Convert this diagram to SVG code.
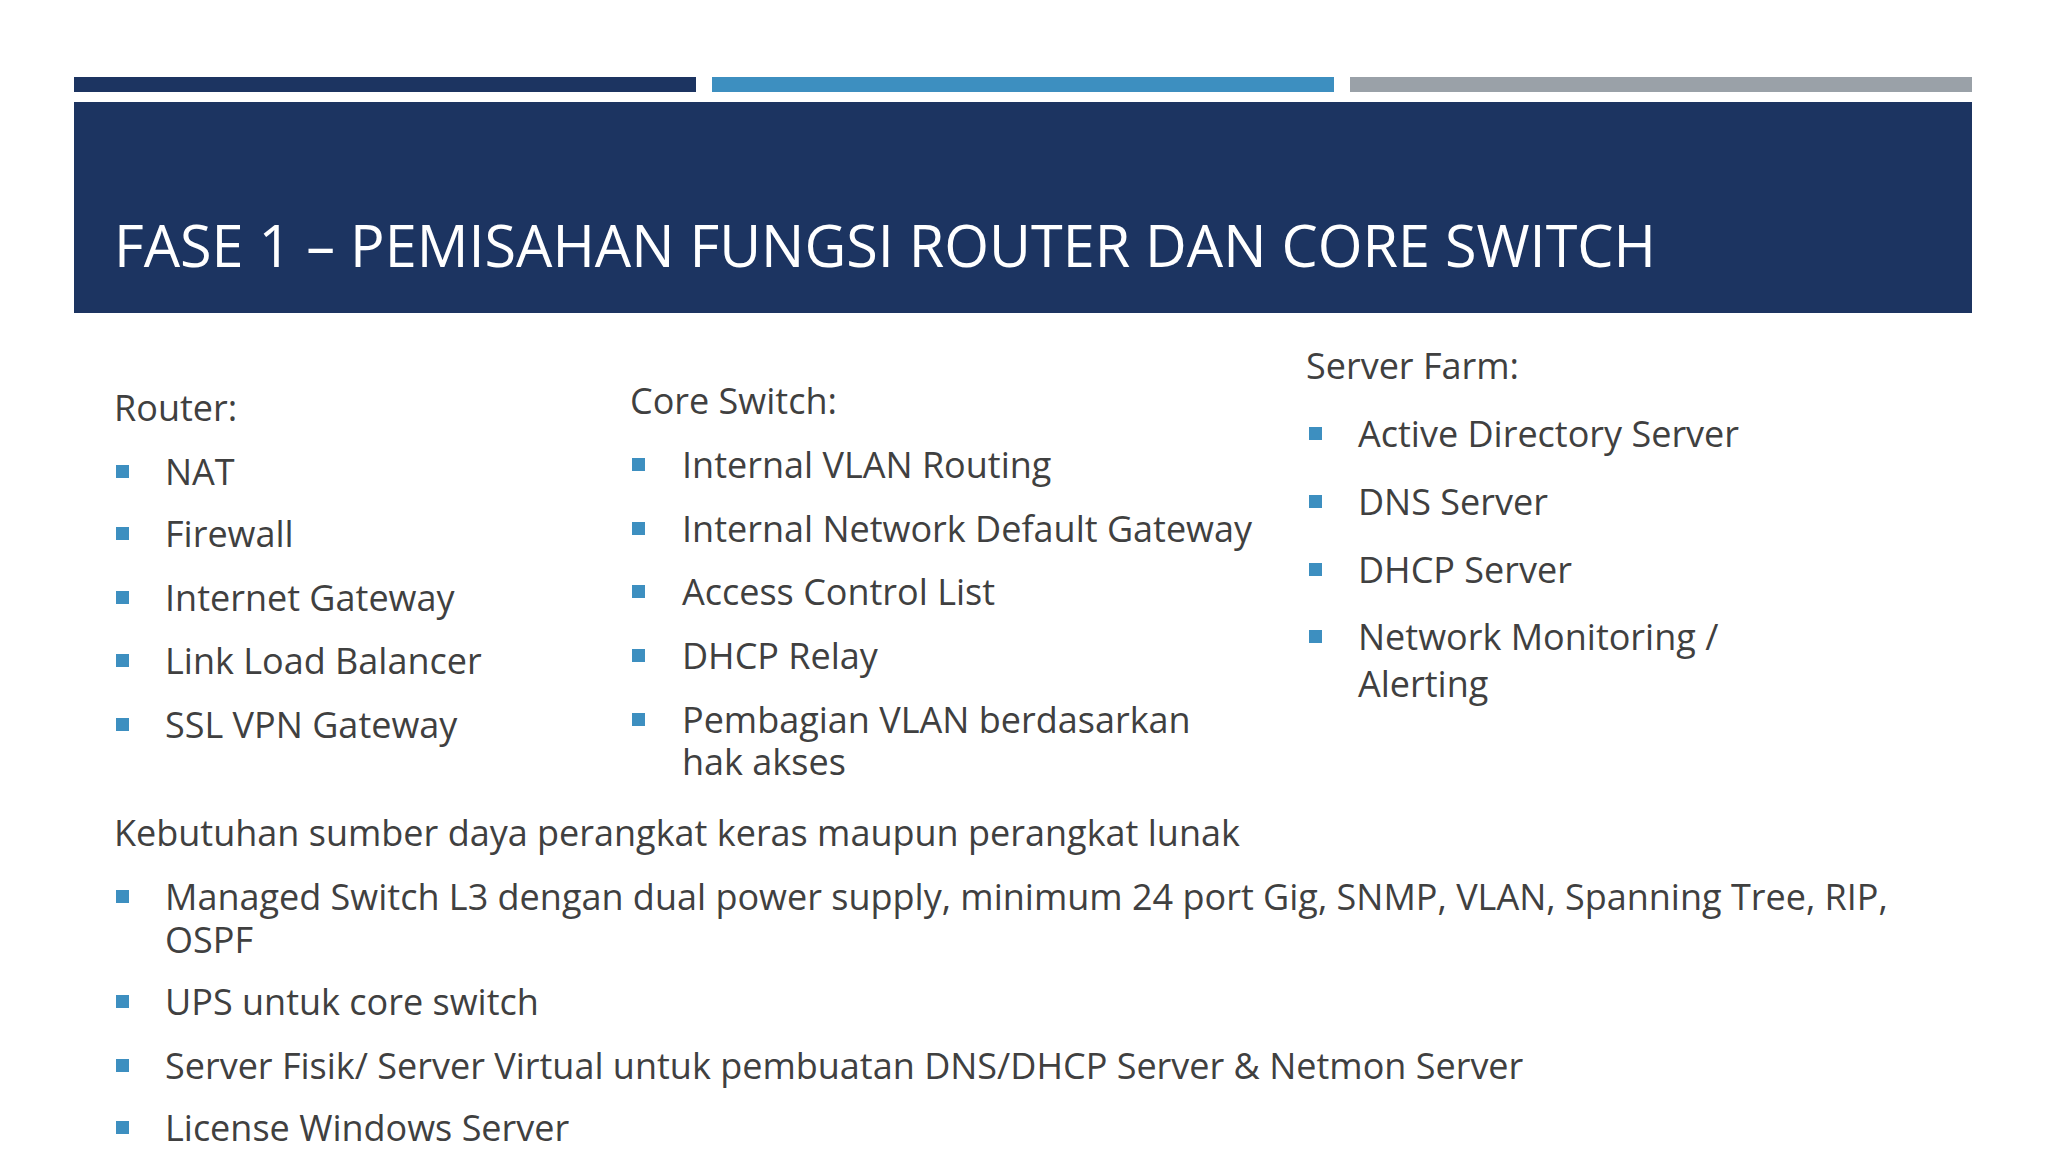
<svg xmlns="http://www.w3.org/2000/svg" width="2048" height="1152" viewBox="0 0 2048 1152">
<style>
.t{font-family:"Open Sans","Noto Sans",sans-serif;font-size:36px;fill:#404040}
.b{fill:#3d8fc0}
</style>
<rect width="2048" height="1152" fill="#fff"/>
<rect x="74" y="77" width="622" height="15" fill="#1c3461"/>
<rect x="712" y="77" width="622" height="15" fill="#3d8fc0"/>
<rect x="1350" y="77" width="622" height="15" fill="#9aa1a8"/>
<g id="header">
<rect x="74" y="102" width="1898" height="211" fill="#1c3461"/>
<text x="114" y="267" font-family="Open Sans,Noto Sans,sans-serif" font-size="58" fill="#fff" textLength="1542" lengthAdjust="spacingAndGlyphs">FASE 1 – PEMISAHAN FUNGSI ROUTER DAN CORE SWITCH</text>
</g>
<g id="router">
<text class="t" x="114" y="421">Router:</text>
<rect class="b" x="116" y="465" width="13" height="13"/><text class="t" x="165" y="485">NAT</text>
<rect class="b" x="116" y="527" width="13" height="13"/><text class="t" x="165" y="547">Firewall</text>
<rect class="b" x="116" y="591" width="13" height="13"/><text class="t" x="165" y="611">Internet Gateway</text>
<rect class="b" x="116" y="654" width="13" height="13"/><text class="t" x="165" y="674">Link Load Balancer</text>
<rect class="b" x="116" y="718" width="13" height="13"/><text class="t" x="165" y="738">SSL VPN Gateway</text>
</g>
<g id="core">
<text class="t" x="630" y="414">Core Switch:</text>
<rect class="b" x="632" y="458" width="13" height="13"/><text class="t" x="682" y="478">Internal VLAN Routing</text>
<rect class="b" x="632" y="522" width="13" height="13"/><text class="t" x="682" y="542">Internal Network Default Gateway</text>
<rect class="b" x="632" y="585" width="13" height="13"/><text class="t" x="682" y="605">Access Control List</text>
<rect class="b" x="632" y="649" width="13" height="13"/><text class="t" x="682" y="669">DHCP Relay</text>
<rect class="b" x="632" y="713" width="13" height="13"/><text class="t" x="682" y="733">Pembagian VLAN berdasarkan</text>
<text class="t" x="682" y="775">hak akses</text>
</g>
<g id="server">
<text class="t" x="1306" y="379">Server Farm:</text>
<rect class="b" x="1309" y="427" width="13" height="13"/><text class="t" x="1358" y="447">Active Directory Server</text>
<rect class="b" x="1309" y="495" width="13" height="13"/><text class="t" x="1358" y="515">DNS Server</text>
<rect class="b" x="1309" y="563" width="13" height="13"/><text class="t" x="1358" y="583">DHCP Server</text>
<rect class="b" x="1309" y="630" width="13" height="13"/><text class="t" x="1358" y="650">Network Monitoring /</text>
<text class="t" x="1358" y="697">Alerting</text>
</g>
<g id="kebutuhan">
<text class="t" x="114" y="846">Kebutuhan sumber daya perangkat keras maupun perangkat lunak</text>
<rect class="b" x="116" y="890" width="13" height="13"/><text class="t" x="165" y="910">Managed Switch L3 dengan dual power supply, minimum 24 port Gig, SNMP, VLAN, Spanning Tree, RIP,</text>
<text class="t" x="165" y="953">OSPF</text>
<rect class="b" x="116" y="995" width="13" height="13"/><text class="t" x="165" y="1015">UPS untuk core switch</text>
<rect class="b" x="116" y="1059" width="13" height="13"/><text class="t" x="165" y="1079">Server Fisik/ Server Virtual untuk pembuatan DNS/DHCP Server &amp; Netmon Server</text>
<rect class="b" x="116" y="1121" width="13" height="13"/><text class="t" x="165" y="1141">License Windows Server</text>
</g>
</svg>
